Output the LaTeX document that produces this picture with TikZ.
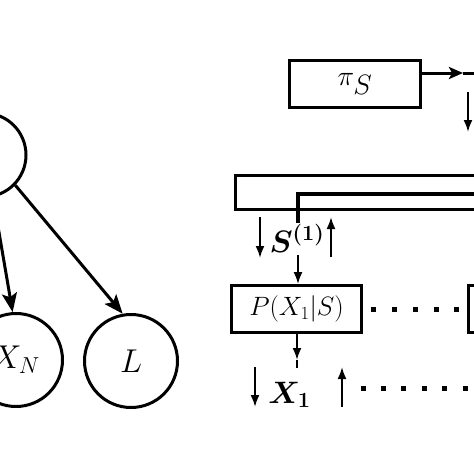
\RequirePackage{fix-cm}
\documentclass[tikz,border=0pt]{standalone}
\usepackage{amsmath}
\usetikzlibrary{arrows.meta}
\newcommand\myboxfont{\fontsize{26.5}{31}\selectfont}
\newcommand\mypifont{\fontsize{28}{33}\selectfont}
\newcommand\mycircfont{\fontsize{33}{40}\selectfont}
\newcommand\mylabfont{\fontsize{31}{38}\selectfont}
\begin{document}
\begin{tikzpicture}[x=1pt,y=-1pt,
  circ/.style={circle, draw, line width=3pt, inner sep=0pt, font=\mycircfont},
  boxn/.style={rectangle, draw, line width=2.8pt, minimum width=130pt, minimum height=47pt, inner sep=0pt, font=\myboxfont},
  bigarrow/.style={line width=3pt, -{Stealth[length=19pt,width=15pt,inset=4pt]}},
  midarrow/.style={line width=3pt, -{Stealth[length=14pt,width=12pt,inset=3pt]}},
  thinarrow/.style={line width=2pt, -{Latex[length=12pt,width=9pt]}},
  thinline/.style={line width=2pt},
  heavyline/.style={line width=3.3pt},
  dotrow/.style={line width=5pt, line cap=butt}
]
\fill[white] (0,0) rectangle (474,474);
\useasboundingbox (0,0) rectangle (474,474);
\clip (0,0) rectangle (474,474);

% left graph
\node[circ, minimum size=84pt] (top) at (-16,155) {};
\node[circ, minimum size=93pt] (XN) at (16,360) {$X_N$};
\node[circ, minimum size=93pt] (L) at (131,361) {$L$};
\draw[bigarrow] (top.-78) -- (XN.94);
\draw[bigarrow] (top.-44) -- (L.100);

% right factor graph
\node[boxn, minimum width=131pt, font=\mypifont] (pi) at (355,84) {$\pi_{\textstyle S}$};
\coordinate (piA) at (463,73);
\coordinate (piB) at (520,73);
\draw[midarrow] (pi.east |- piA) -- (piA);
\draw[line width=3pt] (piA) -- (piB);
\coordinate (d0a) at (468,92);
\coordinate (d0b) at (468,132);
\draw[thinarrow] (d0a) -- (d0b);

\node[draw, heavyline, rectangle, minimum width=600pt, minimum height=34pt, inner sep=0pt, anchor=west] (bar) at (234,192.5) {};
\coordinate (s1top) at (298,223);
\coordinate (innerend) at (620,194);
\draw[heavyline] (s1top) |- (innerend);

\node[font=\mylabfont, anchor=base, inner sep=0pt] (S1) at (297,252) {$\boldsymbol{S^{(1)}}$};
\coordinate (s1bot) at (298,255);

\node[boxn] (P) at (296.5,309) {$P(X_1|S)$};
\node[boxn] (P2) at (533.5,309) {};
\draw[thinarrow] (s1bot) -- (s1bot |- P.north);

\coordinate (a1) at (260,217);
\coordinate (a2) at (260,258);
\draw[thinarrow] (a1) -- (a2);
\coordinate (b1) at (331,257);
\coordinate (b2) at (331,217);
\draw[thinarrow] (b1) -- (b2);

\draw[dotrow, dash pattern=on 5pt off 15.75pt, shorten <=8.5pt] (P.east) -- (P2.west);

\coordinate (pmid) at (297,360);
\coordinate (x1top) at (297,368);
\draw[thinarrow] (P.south -| pmid) -- (pmid);
\draw[thinline] (pmid) -- (x1top);

\node[font=\mylabfont, anchor=base, inner sep=0pt] (X1) at (289.5,403) {$\boldsymbol{X_1}$};
\coordinate (c1) at (255,367);
\coordinate (c2) at (255,407);
\draw[thinarrow] (c1) -- (c2);
\coordinate (e1) at (342,407);
\coordinate (e2) at (342,367);
\draw[thinarrow] (e1) -- (e2);

\coordinate (r2a) at (360.5,388);
\coordinate (r2b) at (520,388);
\draw[dotrow, dash pattern=on 5pt off 15.4pt] (r2a) -- (r2b);
\end{tikzpicture}
\end{document}
